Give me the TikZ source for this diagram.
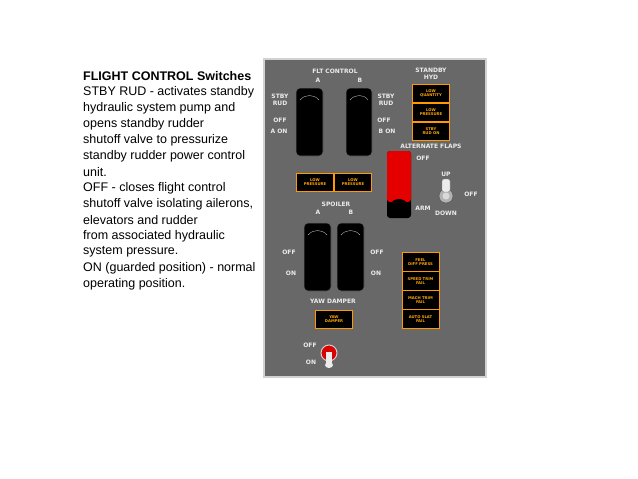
\documentclass[tikz,border=0pt]{standalone}
\usepackage{fontspec}
\setmainfont{Liberation Sans}
\newfontfamily\pf{DejaVu Sans}
\begin{document}
\begin{tikzpicture}[x=1pt,y=-1pt,
 lbl/.style={text=white!85!gray,font=\pf\bfseries\fontsize{6}{6.5}\selectfont,inner sep=0,align=center},
 ann/.style={draw=orange!80!yellow,line width=1pt,fill=black,text=orange!70!yellow,font=\pf\bfseries\fontsize{3.8}{4.2}\selectfont,align=center,inner sep=0,minimum width=37,minimum height=18},
 sw/.style={fill=black,rounded corners=4pt,draw=black!60,line width=0.6pt},
 txt/.style={anchor=west,inner sep=0,font=\fontsize{12.5}{14}\selectfont}]
\useasboundingbox (0,0) rectangle (638,479);
\fill[white] (0,0) rectangle (638,479);
% left text
\foreach \t [count=\i from 0] in {{STBY RUD - activates standby},{hydraulic system pump and},{opens standby rudder},{shutoff valve to pressurize},{standby rudder power control},{unit.},{OFF - closes flight control},{shutoff valve isolating ailerons,},{elevators and rudder},{from associated hydraulic},{system pressure.},{ON (guarded position) - normal},{operating position.}}
  \node[txt] (t\i) at (83,{92+16*\i}) {\t};
\node[txt,font=\bfseries\fontsize{12.5}{14}\selectfont] (title) at (83,76) {FLIGHT CONTROL Switches};
% panel
\draw[fill=gray!75!black!95,draw=gray!35,line width=2pt] (264,59) rectangle (486,377);
% FLT control
\node[lbl] (fc) at (335,71) {FLT CONTROL};
\node[lbl] (la) at (318,80) {A};
\node[lbl] (lb) at (360,80) {B};
\draw[sw] (296,88) rectangle (323,156);
\draw[sw] (346,88) rectangle (372,156);
\draw[gray!60] (300,100) .. controls (305,94) and (314,94) .. (319,100);
\draw[gray!60] (350,100) .. controls (355,94) and (364,94) .. (368,100);
\node[lbl] (s1) at (280,100) {STBY\\RUD};
\node[lbl] (o1) at (280,120) {OFF};
\node[lbl] (a1) at (279,131) {A ON};
\node[lbl] (s2) at (386,100) {STBY\\RUD};
\node[lbl] (o2) at (384,120) {OFF};
\node[lbl] (b1) at (387,131) {B ON};
% standby hyd
\node[lbl] (sh) at (431,74) {STANDBY\\HYD};
\node[ann] (lq) at (431,93.5) {LOW\\QUANTITY};
\node[ann] (lp) at (431,112.5) {LOW\\PRESSURE};
\node[ann] (sr) at (431,131.5) {STBY\\RUD ON};
\node[lbl] (af) at (431,146) {ALTERNATE FLAPS};
% red guard
\fill[black,rounded corners=3pt] (387,151) rectangle (411,218);
\fill[red!90!black,rounded corners=3pt] (387,151) rectangle (411,202);
\fill[black] (390,205) .. controls (393,197) and (405,197) .. (408,205) -- (408,202) -- (390,202) -- cycle;
\node[lbl] (of3) at (423,158) {OFF};
\node[lbl] (arm) at (423,208) {ARM};
\node[lbl] (up) at (446,174) {UP};
\node[lbl] (of4) at (471,194) {OFF};
\node[lbl] (dn) at (446,213) {DOWN};
\draw[fill=gray!60,draw=black!70] (446,196) circle (7);
\fill[gray!30] (446,196) circle (3.5);
\draw[fill=white!85!gray,draw=gray,rounded corners=2pt] (442,179) rectangle (450,192);
% spoiler
\node[ann] (sa) at (315,182) {LOW\\PRESSURE};
\node[ann] (sb) at (353,182) {LOW\\PRESSURE};
\node[lbl] (sp) at (336,204) {SPOILER};
\node[lbl] (spa) at (318,212) {A};
\node[lbl] (spb) at (351,212) {B};
\draw[sw] (304,223) rectangle (331,291);
\draw[sw] (337,223) rectangle (364,291);
\draw[gray!60] (308,235) .. controls (313,229) and (322,229) .. (327,235);
\draw[gray!60] (341,235) .. controls (346,229) and (355,229) .. (360,235);
\node[lbl] (o5) at (289,252) {OFF};
\node[lbl] (on5) at (291,273) {ON};
\node[lbl] (o6) at (377,252) {OFF};
\node[lbl] (on6) at (376,273) {ON};
\node[lbl] (yd) at (333,301) {YAW DAMPER};
\node[ann] (ydb) at (334,319.5) {YAW\\DAMPER};
\node[ann,minimum height=19] (fe) at (420.5,262) {FEEL\\DIFF PRESS};
\node[ann,minimum height=19] (st) at (420.5,281) {SPEED TRIM\\FAIL};
\node[ann,minimum height=19] (mt) at (420.5,300) {MACH TRIM\\FAIL};
\node[ann,minimum height=19] (as) at (420.5,319) {AUTO SLAT\\FAIL};
% yaw damper toggle
\node[lbl] (o7) at (310,345) {OFF};
\node[lbl] (on7) at (311,362) {ON};
\draw[fill=red!85!black,draw=gray!40,line width=1pt] (329,353) circle (8);
\fill[white!85!gray] (326,352) rectangle (332,363);
\fill[white!85!gray] (329,365) ellipse (4 and 3);
\end{tikzpicture}
\end{document}
